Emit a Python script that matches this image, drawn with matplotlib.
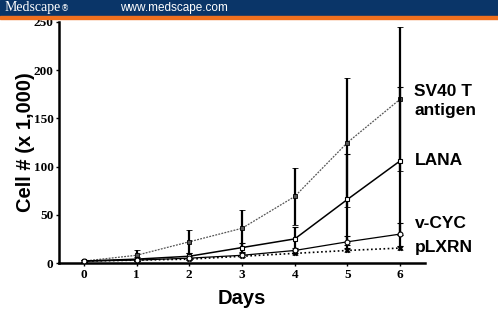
import matplotlib
matplotlib.use("Agg")
import matplotlib.pyplot as plt
from matplotlib.patches import Rectangle

days = [0, 1, 2, 3, 4, 5, 6]
sv40 = [2, 8, 22, 36, 69, 125, 170]
sv40_err = [1, 6, 12, 19, 30, 67, 75]
lana = [2, 4, 7, 16, 25, 66, 106]
lana_err = [1, 2, 3, 5, 12, 47, 77]
vcyc = [2, 3, 5, 8, 13, 22, 30]
vcyc_err = [1, 1, 2, 2, 3, 6, 12]
plxrn = [2, 3, 4, 7, 10, 13, 15.5]
plxrn_err = [0.5, 1, 1, 1, 2, 2, 2]
series_labels = ["SV40 T\nantigen", "LANA", "v-CYC", "pLXRN"]
label_y = [168, 106, 41, 16]
yticks = [0, 50, 100, 150, 200, 250]

W, H = 498, 309
fig = plt.figure(figsize=(W / 100, H / 100), dpi=100)

# header band
fig.patches.append(Rectangle((0, 1 - 16 / H), 1, 16 / H, transform=fig.transFigure,
                             color="#0a3568", zorder=0))
fig.patches.append(Rectangle((0, 1 - 18.5 / H), 1, 2.5 / H, transform=fig.transFigure,
                             color="#f0701e", zorder=0))
fig.text(5 / W, 1 - 8 / H, "Medscape", color="white", fontsize=10,
         family="Liberation Serif", va="center", ha="left")
fig.text(61 / W, 1 - 9 / H, "®", color="white", fontsize=6,
         family="DejaVu Sans", va="center", ha="left")
fig.text(120 / W, 1 - 8 / H, "www.medscape.com", color="white", fontsize=8.5,
         family="Liberation Sans", va="center", ha="left")

ax = fig.add_axes([59 / W, 1 - 263 / H, (425 - 59) / W, (263 - 22) / H])

eb_kw = dict(ecolor="black", elinewidth=1.6, capsize=2, capthick=1.6)
ax.errorbar(days, sv40, yerr=sv40_err, color="#555555", lw=0.9, ls=(0, (1.5, 1)),
            marker="s", ms=3, mfc="#555555", mec="black", mew=0.6, zorder=3, **eb_kw)
ax.errorbar(days, lana, yerr=lana_err, color="black", lw=1.1, ls="-",
            marker="s", ms=3.5, mfc="white", mec="black", mew=0.8, zorder=4, **eb_kw)
ax.errorbar(days, vcyc, yerr=vcyc_err, color="black", lw=0.9, ls="-",
            marker="o", ms=3.5, mfc="white", mec="black", mew=0.8, zorder=4, **eb_kw)
ax.errorbar(days, plxrn, yerr=plxrn_err, color="black", lw=1.2, ls=(0, (1, 1.5)),
            marker="X", ms=3.5, mfc="black", mec="black", mew=0.4, zorder=3, **eb_kw)

ax.set_xlim(-0.47, 6.47)
ax.set_ylim(0, 250)
ax.set_xticks(days)
ax.set_yticks(yticks)
ax.set_xticklabels([str(d) for d in days])
ax.set_yticklabels([str(v) for v in yticks])
for lab in ax.get_xticklabels() + ax.get_yticklabels():
    lab.set_family("Liberation Serif")
    lab.set_fontweight("bold")
    lab.set_fontsize(9.5)
ax.tick_params(axis="both", direction="out", length=2, width=1, pad=2)
ax.spines["top"].set_visible(False)
ax.spines["right"].set_visible(False)
ax.spines["left"].set_linewidth(1.8)
ax.spines["bottom"].set_linewidth(1.8)

ax.set_xlabel("Days", family="Liberation Sans", fontweight="bold", fontsize=14.5, labelpad=6)
ax.set_ylabel("Cell # (x 1,000)", family="Liberation Sans", fontweight="bold",
              fontsize=14.5)
ax.yaxis.set_label_coords(-24 / (425 - 59), 0.5)

for txt, yv in zip(series_labels, label_y):
    ax.text(6.27, yv, txt, family="Liberation Sans", fontweight="bold", fontsize=12.5,
            ha="left", va="center", linespacing=1.35, clip_on=False)

fig.savefig("out.png", dpi=100)
